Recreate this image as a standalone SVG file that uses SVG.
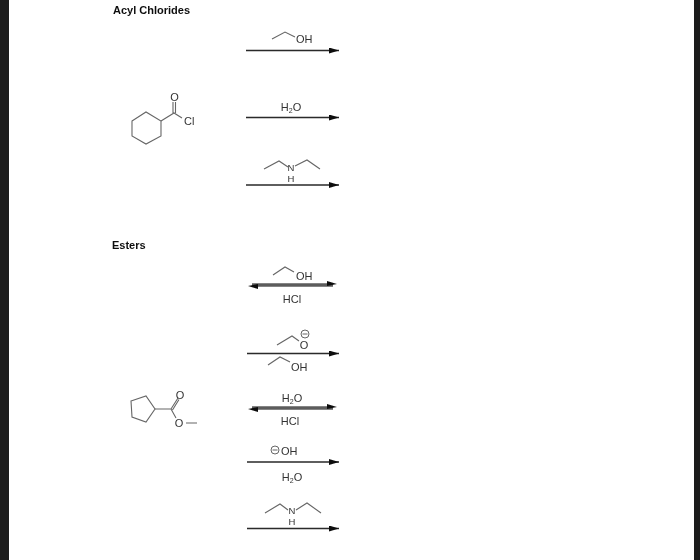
<svg xmlns="http://www.w3.org/2000/svg" width="700" height="560" viewBox="0 0 700 560">
<style>
text{font-family:"Liberation Sans",Arial,sans-serif;font-size:11px;fill:#333}
.h{font-weight:bold;fill:#111;font-size:11px}
.m{text-anchor:middle}
.n{font-size:9.500px}
.b{fill:none;stroke:#666;stroke-width:1.1}
.a{fill:none;stroke:#2a2a2a;stroke-width:1.4}
.e{fill:none;stroke:#5c5c5c;stroke-width:3.6}
.c{fill:none;stroke:#555;stroke-width:.9}
.s{font-size:7px}
</style>
<defs>
<filter id="soft" x="-5%" y="-5%" width="110%" height="110%"><feGaussianBlur stdDeviation="0.45"/></filter>
<marker id="ah" markerUnits="userSpaceOnUse" markerWidth="10" markerHeight="7" refX="10" refY="3" orient="auto"><path d="M0 0L10 3L0 6z" fill="#111"/></marker>
</defs>
<rect width="700" height="560" fill="#fff"/>
<rect x="0" y="0" width="9" height="560" fill="#1c1c1c"/>
<rect x="694" y="0" width="6" height="560" fill="#1c1c1c"/>
<g filter="url(#soft)">
<g id="headings">
<text class="h" x="113" y="14">Acyl Chlorides</text>
<text class="h" x="112" y="249">Esters</text>
</g>
<g id="acyl-chloride">
<path class="b" d="M132 121L146 112L161 121L161 136L146 144L132 136Z"/>
<path class="b" d="M161 121L174 113L182 118M173 113V102M175.500 113V102"/>
<text class="m" x="174.500" y="101">O</text>
<text x="184" y="125">Cl</text>
</g>
<g id="ester">
<path class="b" d="M131 401L146 396L155 409L146 422L132 417Z"/>
<path class="b" d="M155 409H171L178 398M172.500 410L179 399.500M171 409L176 418M186 423H197"/>
<text class="m" x="180" y="399">O</text>
<text class="m" x="179" y="427">O</text>
</g>
<g id="reagents">
<path class="b" d="M272 39L285 32L295 37"/><text x="296" y="43">OH</text>
<text class="m" x="291" y="111">H<tspan class="s" dy="2">2</tspan><tspan dy="-2">O</tspan></text>
<path class="b" d="M264 169L279 161L288 167M295 166L307 160L320 169"/>
<text class="m n" x="291" y="171">N</text><text class="m n" x="291" y="182">H</text>
<path class="b" d="M273 275L285 267L294 272"/><text x="296" y="280">OH</text>
<text class="m" x="292" y="303">HCl</text>
<path class="b" d="M277 345L292 336L299 341"/>
<text class="m" x="304" y="349">O</text>
<circle class="c" cx="305" cy="334" r="4"/><path class="c" d="M302.500 334H307.500"/>
<path class="b" d="M268 365L280 357L290 362"/><text x="291" y="371">OH</text>
<text class="m" x="292" y="402">H<tspan class="s" dy="2">2</tspan><tspan dy="-2">O</tspan></text>
<text class="m" x="290" y="425">HCl</text>
<circle class="c" cx="275" cy="450" r="4"/><path class="c" d="M272.500 450H277.500"/>
<text x="281" y="455">OH</text>
<text class="m" x="292" y="481">H<tspan class="s" dy="2">2</tspan><tspan dy="-2">O</tspan></text>
<path class="b" d="M265 513L280 504L288 510M296 510L307 503L321 513"/>
<text class="m n" x="292" y="514">N</text><text class="m n" x="292" y="525">H</text>
</g>
<g id="connectors">
<path class="a" d="M246 50.500H339" marker-end="url(#ah)"/>
<path class="a" d="M246 117.500H339" marker-end="url(#ah)"/>
<path class="a" d="M246 185H339" marker-end="url(#ah)"/>
<path class="e" d="M252 285H333"/>
<path d="M327 281L337 284L327 286ZM258 289L248 286L258 284Z" fill="#111"/>
<path class="a" d="M247 353.500H339" marker-end="url(#ah)"/>
<path class="e" d="M252 408H333"/>
<path d="M327 404L337 407L327 409ZM258 412L248 409L258 407Z" fill="#111"/>
<path class="a" d="M247 462H339" marker-end="url(#ah)"/>
<path class="a" d="M247 528.500H339" marker-end="url(#ah)"/>
</g>
</g>
</svg>
